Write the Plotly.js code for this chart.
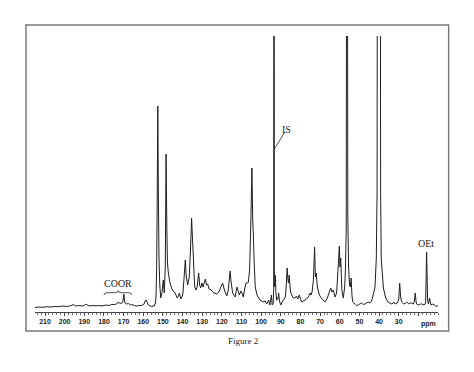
<!DOCTYPE html>
<html><head><meta charset="utf-8">
<script src="https://cdn.plot.ly/plotly-3.0.1.min.js"></script>
<style>html,body{margin:0;padding:0;background:#fff}#chart{width:474px;height:372px}</style>
</head><body><div id="chart"></div>
<script>
// chemical shift (ppm) and intensity (arbitrary units, baseline = 0)
const ppm = [215.1,213,211,209,207,205,203,201,199,197,195.6,194.5,193,191,189.8,188.8,187.5,186,184,182.7,181,179,177.5,176,174.7,173.5,172.7,171.8,170.9,170.3,169.9,169.5,169.2,168.3,167.5,166.5,165.8,164.5,163.3,162,160.7,159.6,159.1,158.5,157.9,157.4,156.5,155.7,154.4,153.8,153.5,153.2,152.9,152.6,152.3,152.0,151.6,151.1,150.5,149.8,149.3,148.8,148.4,148.0,147.7,147.3,146.4,145.2,143.8,142.7,142.1,141.6,141.0,140.6,139.8,139.2,138.6,138.1,137.4,136.6,136.0,135.4,135.0,134.5,134.1,133.8,133.2,132.6,131.8,131.3,130.8,130.1,129.6,129.0,128.4,127.8,127.2,126.5,125.5,124.0,122.6,121.5,120.5,119.6,118.7,117.5,116.8,116.2,115.8,115.3,114.5,113.3,112.3,111.7,111.1,110.3,109.6,109.1,108.4,107.7,106.9,106.5,105.9,105.3,104.7,104.3,104.0,103.6,103.0,102.1,100.6,99.7,98.9,97.9,97.2,96.6,96.2,95.6,94.8,94.4,93.9,93.6,93.5,93.3,93.1,92.8,92.5,92.1,91.5,91.1,90.7,90.0,89.3,88.7,87.7,87.2,86.8,86.4,86.1,85.7,85.3,85.0,84.0,83.6,82.8,82.0,81.4,80.6,80.0,79.4,78.6,77.7,76.8,76.0,75.1,74.6,74.1,73.4,72.8,72.4,72.0,71.4,70.4,69.0,67.5,66.3,65.5,64.6,64.0,63.3,62.4,61.6,60.9,60.2,59.9,59.5,59.1,58.9,58.2,57.5,57.1,56.7,56.3,55.9,55.5,55.0,54.6,54.2,53.8,53.4,52.2,51.4,50.6,49.8,48.9,48.0,47.2,46.3,45.5,44.6,43.8,43.4,42.1,41.4,41.0,40.6,40.1,39.6,39.2,38.9,37.8,36.6,35.5,34.5,33.5,32.8,32.4,31.8,30.8,30.0,29.5,29.0,28.5,27.4,26.5,25.9,24.9,24.2,23.5,22.5,22.0,21.6,21.2,20.9,19.9,19.0,18.3,17.1,16.3,15.8,15.3,14.9,14.3,13.6,12.6,11.8,11.2,10.0];
const intensity = [-0.5,0,-0.3,0.3,0,0.5,0.3,1,0.6,1.2,2.5,1,1.5,1,2,2.5,1,1.5,1.2,1.5,1,2,1.5,2.5,2.5,3,5,3.5,4,6,13,6,4,3,3.5,2,2.5,1.5,1,1.5,1.5,3,6,7,4,2,1,0.5,1,4,11,38,110,201,110,50,22,9,14,27,14,40,153,80,45,35,24,17,14,9,11,14,9,8,14,30,47,30,22,30,55,89,70,50,30,20,17,20,34,22,19,24,20,24,28,22,23,18,17,14,13,15,20,24,17,11,16,28,36,25,14,10,20,16,12,16,13,10,18,24,24,25,37,80,139,87,74,47,20,12,7,6,5,6,3,5,7,2,12,2,3,20,800,25,20,32,15,7,8,14,6,2,5,7,10,22,39,28,24,32,20,15,10,9,9,11,8,12,8,5,6,7,8,10,14,12,15,27,60,30,34,20,12,8,5,9,14,19,15,17,10,14,37,61,40,49,25,17,9,20,37,80,800,90,40,22,20,29,12,5,3,1.5,2,3,4,2.5,3,4,5,4,6,9,19,49,115,900,1000,900,115,49,19,9,5,4,3,4,5,3,4,7,24,10,5,3,4,5,3,4,4,3,6,14,6,3,2,3,3,2,4,55,8,3,9,2,3,2,1,1];
// axis tick values and labels
const tickValues = [210,200,190,180,170,160,150,140,130,120,110,100,90,80,70,60,50,40,30,20];
const tickLabels = ['210','200','190','180','170','160','150','140','130','120','110','100','90','80','70','60','50','40','30',''];
// peak labels: text, ppm, intensity
const labelTexts = ['COOR','IS','OEt'];
const labelPpm = [172.7,87.0,16.2];
const labelInt = [24,178,64];

const serif = 'Liberation Serif, Times New Roman, serif';
const sans = 'Liberation Sans, Arial, sans-serif';
const trace = {
  x: ppm, y: intensity, type: 'scatter', mode: 'lines',
  line: {color: '#1e1e1e', width: 1, simplify: false}, hoverinfo: 'skip'
};
const annotations = labelTexts.map((t, i) => ({
  x: labelPpm[i], y: labelInt[i], xref: 'x', yref: 'y', text: t, showarrow: false,
  font: {family: serif, size: 10, color: '#222'}
}));
annotations.push({x: 14.6, y: -0.022, xref: 'x', yref: 'paper', yanchor: 'top', text: 'ppm', showarrow: false,
  font: {family: sans, size: 7, weight: 700, color: '#222'}});
annotations.push({x: 0.517, y: -0.13, xref: 'paper', yref: 'paper', text: 'Figure 2', showarrow: false,
  font: {family: serif, size: 9, color: '#222'}});

const layout = {
  width: 474, height: 372,
  margin: {l: 35, r: 36, t: 36, b: 60, pad: 0},
  paper_bgcolor: '#fff', plot_bgcolor: '#fff', showlegend: false,
  xaxis: {
    range: [215.1, 10.0], autorange: false,
    tickmode: 'array', tickvals: tickValues, ticktext: tickLabels,
    ticks: 'outside', ticklen: 3, tickwidth: 1, tickcolor: '#444',
    showline: true, linecolor: '#444', linewidth: 1, showgrid: false, zeroline: false,
    tickfont: {family: sans, size: 7, weight: 700, color: '#222'},
    minor: {tickmode: 'linear', tick0: 0, dtick: 2, ticks: 'outside', ticklen: 1.5, tickcolor: '#777', showgrid: false}
  },
  yaxis: {range: [-5, 271], autorange: false, visible: false, showgrid: false, zeroline: false},
  annotations: annotations,
  shapes: [
    {type: 'rect', xref: 'paper', yref: 'paper', x0: -0.0224, x1: 1.0265, y0: -0.069, y1: 1.0399,
     line: {color: '#7a7a7a', width: 1.5}, fillcolor: 'rgba(0,0,0,0)', layer: 'below'},
    {type: 'line', xref: 'x', yref: 'y', x0: 93.3, y0: 158, x1: 87.9, y1: 175, line: {color: '#222', width: 0.8}},
    {type: 'path', xref: 'x', yref: 'y',
     path: 'M 180,12 Q 180,14.3 178.5,14.3 L 174.3,14.3 Q 172.7,14.3 172.7,16.5 Q 172.7,14.3 171.1,14.3 L 167.4,14.3 Q 165.9,14.3 165.9,12',
     line: {color: '#222', width: 0.8}}
  ]
};
Plotly.newPlot('chart', [trace], layout, {staticPlot: true, displayModeBar: false});
</script></body></html>
